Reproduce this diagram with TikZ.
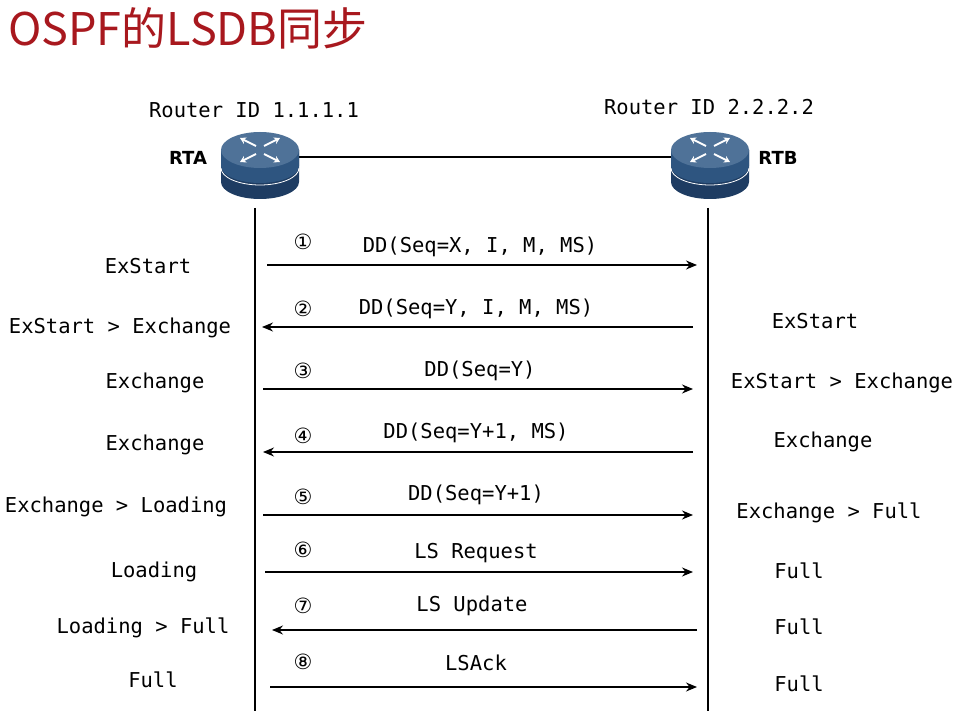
\documentclass[tikz,border=0pt]{standalone}
\usepackage{fontspec}
\setmonofont{DejaVu Sans Mono}
\setsansfont{DejaVu Sans}
\newfontfamily\cjk{Noto Sans CJK SC}
\usetikzlibrary{arrows.meta}
\definecolor{titlered}{HTML}{A8181E}
\definecolor{rtop}{HTML}{4F7298}
\definecolor{rdark}{HTML}{1E3C62}
\definecolor{rmid}{HTML}{2E5580}
\tikzset{
  lbl/.style={font=\ttfamily\fontsize{20.5}{22}\selectfont, inner sep=0pt},
  num/.style={font=\sffamily\fontsize{21}{23}\selectfont, inner sep=0pt},
  msg/.style={line width=1.3pt, -{Stealth[length=11pt,width=9pt]}},
  life/.style={line width=1.3pt},
}
\newcommand{\routerpic}[2]{%
  \begin{scope}[shift={(#1,#2)}]
    \fill[rdark] (-39,-10) -- (-39,22) arc[start angle=180,end angle=0,x radius=39,y radius=17] -- (39,-10) -- cycle;
    \fill[rmid] (-39,-10) -- (-39,6) arc[start angle=180,end angle=0,x radius=39,y radius=17] -- (39,-10) -- cycle;
    \draw[white,line width=0.8pt] (-39,8) arc[start angle=180,end angle=0,x radius=39,y radius=17];
    \fill[rtop] (0,-10) ellipse[x radius=39,y radius=18];
    \begin{scope}[white,line width=2pt,-{Stealth[length=6pt,width=7pt]}]
      \draw (-4,-14) -- (-20,-22);
      \draw (4,-14) -- (20,-22);
      \draw (-4,-6) -- (-20,2);
      \draw (4,-6) -- (20,2);
    \end{scope}
  \end{scope}}
\begin{document}
\begin{tikzpicture}[x=1pt,y=-1pt]
\useasboundingbox[fill=white] (0,0) rectangle (962,711);
\node[anchor=west,text=titlered,font=\cjk\fontsize{45}{48}\selectfont,inner sep=0pt] (title) at (8,28) {OSPF的LSDB同步};
% routers
\draw[line width=1.8pt] (298,157) -- (672,157);
\routerpic{260}{160}
\routerpic{710}{160}
\node (ra) at (260,160) {};
\node (rb) at (710,160) {};
\node[lbl] (ida) at (254,110) {Router ID 1.1.1.1};
\node[lbl] (idb) at (709,107) {Router ID 2.2.2.2};
\node[font=\sffamily\bfseries\fontsize{18}{20}\selectfont,inner sep=0pt] (rta) at (188,158) {RTA};
\node[font=\sffamily\bfseries\fontsize{18}{20}\selectfont,inner sep=0pt] (rtb) at (778,158) {RTB};
% lifelines
\coordinate (la) at (255,208); \coordinate (lae) at (255,711);
\coordinate (lb) at (708,208); \coordinate (lbe) at (708,711);
\draw[life] (la) -- (lae);
\draw[life] (lb) -- (lbe);
% messages
\foreach \i/\y/\xs/\xe/\lx/\ly/\ny/\t/\n in {
 1/265/267/697/480/247/242/{DD(Seq=X, I, M, MS)}/①,
 2/327/693/262/476/309/309/{DD(Seq=Y, I, M, MS)}/②,
 3/389/263/693/480/371/371/{DD(Seq=Y)}/③,
 4/452/693/263/476/433/436/{DD(Seq=Y+1, MS)}/④,
 5/515/263/693/476/495/497/{DD(Seq=Y+1)}/⑤,
 6/572/265/693/476/553/550/{LS Request}/⑥,
 7/630/697/272/472/606/606/{LS Update}/⑦,
 8/687/270/697/476/663/662/{LSAck}/⑧}{
  \coordinate (s\i) at (\xs,\y);
  \coordinate (e\i) at (\xe,\y);
  \draw[msg] (s\i) -- (e\i);
  \node[lbl] (m\i) at (\lx,\ly) {\t};
  \node[num] (n\i) at (303,\ny) {\n};
}
% left states
\node[lbl] (a1) at (148,266) {ExStart};
\node[lbl] (a2) at (120,328) {ExStart > Exchange};
\node[lbl] (a3) at (155,383) {Exchange};
\node[lbl] (a4) at (155,445) {Exchange};
\node[lbl] (a5) at (116,507) {Exchange > Loading};
\node[lbl] (a6) at (154,572) {Loading};
\node[lbl] (a7) at (143,628) {Loading > Full};
\node[lbl] (a8) at (153,680) {Full};
% right states
\node[lbl] (b1) at (815,321) {ExStart};
\node[lbl] (b2) at (842,383) {ExStart > Exchange};
\node[lbl] (b3) at (823,442) {Exchange};
\node[lbl] (b4) at (829,513) {Exchange > Full};
\node[lbl] (b5) at (799,571) {Full};
\node[lbl] (b6) at (799,627) {Full};
\node[lbl] (b7) at (799,684) {Full};
\end{tikzpicture}
\end{document}
